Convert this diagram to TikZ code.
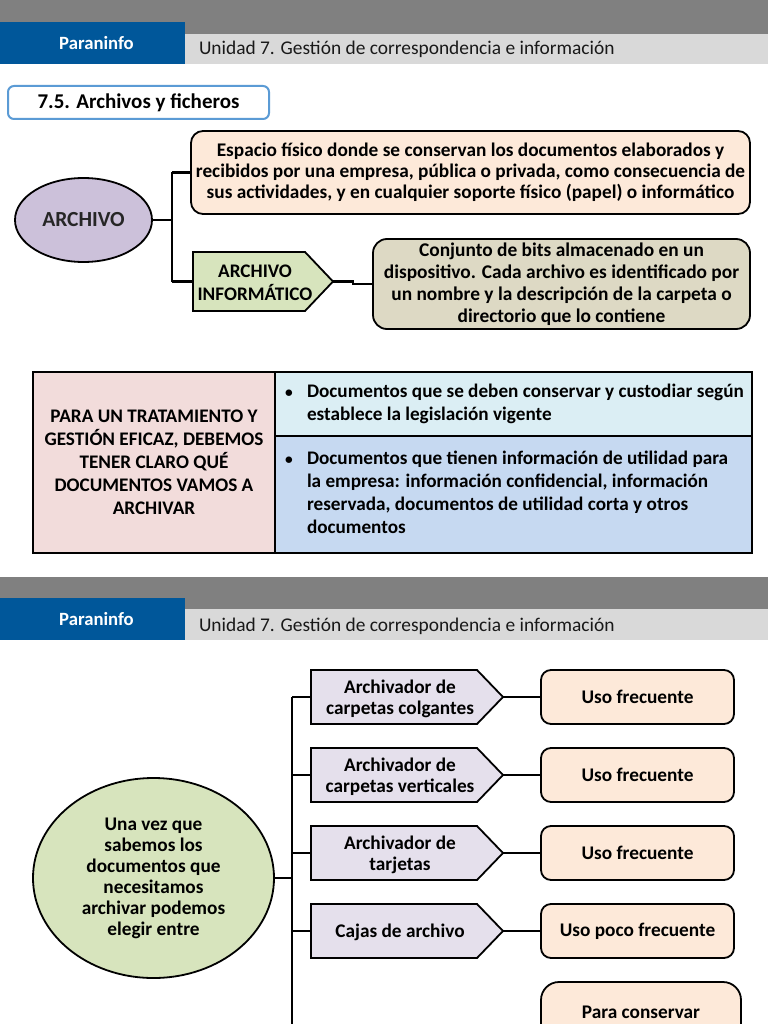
\documentclass[tikz,border=0pt]{standalone}
\usepackage{fontspec}
\setmainfont{Carlito}
\usetikzlibrary{shapes.geometric,backgrounds}
\definecolor{hdrgray}{HTML}{808080}
\definecolor{hdrlight}{HTML}{D9D9D9}
\definecolor{brandblue}{HTML}{00579A}
\definecolor{titleblue}{HTML}{5B9BD5}
\definecolor{lav}{HTML}{CCC1DA}
\definecolor{peach}{HTML}{FDE9D9}
\definecolor{lgreen}{HTML}{D7E4BD}
\definecolor{tanbox}{HTML}{DDD9C4}
\definecolor{pinkcell}{HTML}{F2DCDB}
\definecolor{cyancell}{HTML}{DBEEF4}
\definecolor{bluecell}{HTML}{C6D9F1}
\definecolor{pentlav}{HTML}{E5E0EC}
\begin{document}
\begin{tikzpicture}[x=1pt,y=-1pt,
  every node/.style={outer sep=0pt},
  bodyfont/.style={font=\fontsize{19.3}{21}\selectfont\bfseries},
  brandbox/.style={fill=brandblue, text=white, minimum width=185, minimum height=42, inner sep=0, font=\fontsize{18.7}{20}\selectfont\bfseries},
  unittext/.style={anchor=west, inner sep=0, font=\fontsize{19.4}{22}\selectfont, text=black!90},
  titlebox/.style={draw=titleblue, line width=2pt, rounded corners=6pt, fill=white, minimum width=261, minimum height=33, inner sep=0, font=\fontsize{21}{24}\selectfont\bfseries},
  boxstyle/.style={draw=black, line width=1.8pt, rounded corners=12pt, align=center, inner sep=0, bodyfont},
  conn/.style={draw=black, line width=2.2pt},
  pentstyle/.style={draw=black, line width=1.8pt, line join=miter},
  cell/.style={draw=black, line width=1.8pt, inner sep=0},
  celltext/.style={inner sep=0, font=\fontsize{19.2}{23}\selectfont\bfseries},
  pentnode/.style={inner sep=0, minimum height=54, minimum width=192, bodyfont},
  usebox/.style={boxstyle, fill=peach, minimum width=193, minimum height=54, rounded corners=10pt},
]
\useasboundingbox (0,0) rectangle (768,1024);
\begin{scope}[on background layer]
\fill[white] (0,0) rectangle (768,1024);
\end{scope}
\clip (0,0) rectangle (768,1024);

% ---------- header 1 ----------
\fill[hdrgray] (0,0) rectangle (768,34);
\fill[hdrlight] (185,34) rectangle (768,64);
\node[brandbox] (brand1) at (92.5,43) {\hspace*{8pt}Paraninfo};
\node[unittext] (unit1) at (199,49) {Unidad 7. Gestión de correspondencia e información};

\node[titlebox] (title) at (138.5,102.5) {7.5. Archivos y ficheros};

% ---------- archivo ----------
\node[ellipse, draw, line width=1.8pt, fill=lav, minimum width=137, minimum height=84, inner sep=0, font=\fontsize{21.5}{24}\selectfont\bfseries, text=black!85] (arch) at (83.5,220) {ARCHIVO};

\node[boxstyle, fill=peach, minimum width=559, minimum height=83] (def1) at (470.5,172.5)
 {Espacio físico donde se conservan los documentos elaborados y\\recibidos por una empresa, pública o privada, como consecuencia de\\sus actividades, y en cualquier soporte físico (papel) o informático};

\node[inner sep=0, minimum width=140, minimum height=59, font=\fontsize{19.2}{22}\selectfont\bfseries] (inf) at (263,281.5)
 {\raisebox{-3pt}[\height][\depth]{\begin{tabular}{@{}c@{}}ARCHIVO\\INFORMÁTICO\end{tabular}}\hspace*{16pt}};
\begin{scope}[on background layer]
\draw[pentstyle, fill=lgreen] (inf.north west) -- ([xshift=-28pt]inf.north east) -- (inf.east) -- ([xshift=-28pt]inf.south east) -- (inf.south west) -- cycle;
\end{scope}

\node[boxstyle, fill=tanbox, minimum width=377, minimum height=90, rounded corners=14pt, font=\fontsize{19.4}{22}\selectfont\bfseries] (def2) at (561.5,284)
 {Conjunto de bits almacenado en un\\dispositivo. Cada archivo es identificado por\\un nombre y la descripción de la carpeta o\\directorio que lo contiene};

\coordinate (tbar) at (172,0);
\draw[conn] (arch.east) -- (arch.east -| tbar);
\draw[conn] (def1.west -| tbar) -- (inf.west -| tbar);
\draw[conn] (def1.west -| tbar) -- (def1.west);
\draw[conn] (inf.west -| tbar) -- (inf.west);
\draw[conn] (inf.east) -- ++(20,0) |- (def2.west);

% ---------- table ----------
\node[cell, fill=pinkcell, minimum width=242, minimum height=181] (cellL) at (154,462.5) {};
\node[cell, fill=cyancell, minimum width=477, minimum height=64] (cellT) at (513.5,404) {};
\node[cell, fill=bluecell, minimum width=477, minimum height=117] (cellB) at (513.5,494.5) {};
\node[celltext, align=center] (txtL) at (cellL.center)
 {PARA UN TRATAMIENTO Y\\GESTIÓN EFICAZ, DEBEMOS\\TENER CLARO QUÉ\\DOCUMENTOS VAMOS A\\ARCHIVAR};
\node[celltext, anchor=west] (txtT) at ([xshift=10pt]cellT.west)
 {\begin{tabular}{@{}l@{}l@{}}\makebox[22pt][l]{\scalebox{0.8}{•}}&Documentos que se deben conservar y custodiar según\\&establece la legislación vigente\end{tabular}};
\node[celltext, anchor=west] (txtB) at ([xshift=10pt]cellB.west)
 {\begin{tabular}{@{}l@{}l@{}}\makebox[22pt][l]{\scalebox{0.8}{•}}&Documentos que tienen información de utilidad para\\&la empresa: información confidencial, información\\&reservada, documentos de utilidad corta y otros\\&documentos\end{tabular}};

% ---------- header 2 ----------
\fill[hdrgray] (0,577) rectangle (768,609);
\fill[hdrlight] (185,609) rectangle (768,640);
\node[brandbox] (brand2) at (92.5,619) {\hspace*{8pt}Paraninfo};
\node[unittext] (unit2) at (199,626) {Unidad 7. Gestión de correspondencia e información};

% ---------- second diagram ----------
\node[ellipse, draw, line width=1.8pt, fill=lgreen, minimum width=241, minimum height=200, inner sep=0, align=center, bodyfont] (big) at (153.5,878)
 {Una vez que\\sabemos los\\documentos que\\necesitamos\\archivar podemos\\elegir entre};

\coordinate (bx) at (292,0);
\coordinate (barend) at (292,1035);

\foreach \i/\yy/\lab/\use in {1/697/{Archivador de\\carpetas colgantes}/{Uso frecuente},
                             2/775/{Archivador de\\carpetas verticales}/{Uso frecuente},
                             3/853/{Archivador de\\tarjetas}/{Uso frecuente},
                             4/931/{Cajas de archivo}/{Uso poco frecuente}} {
  \node[pentnode] (p\i) at (407,\yy) {\raisebox{-2.5pt}[\height][\depth]{\begin{tabular}{@{}c@{}}\lab\end{tabular}}\hspace*{14pt}};
  \begin{scope}[on background layer]
  \draw[pentstyle, fill=pentlav] (p\i.north west) -- ([xshift=-26pt]p\i.north east) -- (p\i.east) -- ([xshift=-26pt]p\i.south east) -- (p\i.south west) -- cycle;
  \end{scope}
  \node[usebox] (u\i) at (637.5,\yy) {\use};
  \draw[conn] (p\i.west -| bx) -- (p\i.west);
  \draw[conn] (p\i.east) -- (u\i.west);
}
\draw[conn] (p1.west -| bx) -- (barend);
\draw[conn] (big.east) -- (big.east -| bx);

\node[boxstyle, fill=peach, minimum width=200, minimum height=90, rounded corners=18pt] (u5) at (641,1027) {};
\node[bodyfont, inner sep=0] (u5t) at (641,1012) {Para conservar};
\end{tikzpicture}
\end{document}
